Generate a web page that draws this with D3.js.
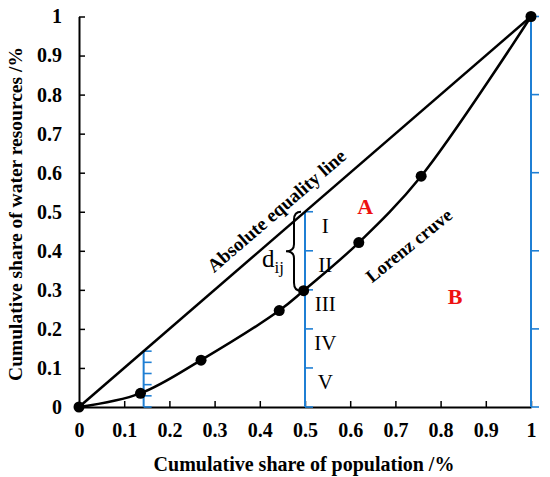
<!DOCTYPE html>
<html>
<head>
<meta charset="utf-8">
<script src="https://cdn.jsdelivr.net/npm/d3@7"></script>
<style>
  body { margin: 0; background: #fff; }
  svg { display: block; font-family: "Liberation Serif", "Times New Roman", serif; }
</style>
</head>
<body>
<svg id="chart" width="550" height="477"></svg>
<script>
// ---- data ----
const tickValues = [0, 0.1, 0.2, 0.3, 0.4, 0.5, 0.6, 0.7, 0.8, 0.9, 1];
const tickLabels = ["0", "0.1", "0.2", "0.3", "0.4", "0.5", "0.6", "0.7", "0.8", "0.9", "1"];
const equalityX = [0, 1];
const equalityY = [0, 1];
const lorenzX = [0, 0.136, 0.27, 0.443, 0.497, 0.619, 0.757, 1];
const lorenzY = [0, 0.035, 0.12, 0.247, 0.298, 0.421, 0.591, 1];
const blueX = [0.143, 0.5, 1];
const blueTop = [0.143, 0.5, 1];
const blueDivisions = [5, 5, 5];
const romanLabels = ["I", "II", "III", "IV", "V"];
const xTitle = "Cumulative share of population /%";
const yTitle = "Cumulative share of water resources /%";

// ---- layout ----
const svg = d3.select("#chart");
const x = d3.scaleLinear().domain([0, 1]).range([79, 531]);
const y = d3.scaleLinear().domain([0, 1]).range([407, 16.5]);
const blue = "#1f7fd4";

// axes
const xAxis = d3.axisBottom(x).tickValues(tickValues)
  .tickFormat((d, i) => tickLabels[i]).tickSizeInner(-6).tickSizeOuter(0).tickPadding(16);
const yAxis = d3.axisLeft(y).tickValues(tickValues)
  .tickFormat((d, i) => tickLabels[i]).tickSizeInner(-6).tickSizeOuter(0).tickPadding(17);

const gx = svg.append("g").attr("transform", `translate(0,${y(0)})`).call(xAxis);
const gy = svg.append("g").attr("transform", `translate(${x(0)},0)`).call(yAxis);
[gx, gy].forEach(g => {
  g.selectAll("path.domain").attr("stroke", "#000").attr("stroke-width", 2);
  g.selectAll(".tick line").attr("stroke", "#000").attr("stroke-width", 1.5);
  g.selectAll("text").attr("fill", "#000").style("font-size", "20px").style("font-weight", "bold")
    .style("font-family", '"Liberation Serif", serif');
});
gy.selectAll(".tick").filter(d => d === 0).select("line").remove();
gx.selectAll(".tick").filter(d => d === 0).select("line").remove();

// titles
svg.append("text").attr("x", 304).attr("y", 471).attr("text-anchor", "middle")
  .style("font-size", "20px").style("font-weight", "bold").text(xTitle);
svg.append("text").attr("transform", `translate(22,214) rotate(-90)`).attr("text-anchor", "middle")
  .style("font-size", "19.5px").style("font-weight", "bold").text(yTitle);

// blue division lines
blueX.forEach((bx, k) => {
  const g = svg.append("g");
  g.append("line").attr("x1", x(bx)).attr("x2", x(bx)).attr("y1", y(0)).attr("y2", y(blueTop[k]))
    .attr("stroke", blue).attr("stroke-width", 2);
  const ticks = d3.range(blueDivisions[k] + 1).map(i => i * blueTop[k] / blueDivisions[k]);
  g.selectAll("line.bt").data(ticks).join("line").attr("class", "bt")
    .attr("x1", x(bx)).attr("x2", x(bx) + 8)
    .attr("y1", d => y(d)).attr("y2", d => y(d))
    .attr("stroke", blue).attr("stroke-width", 1.6);
});

// equality line
const eqData = equalityX.map((v, i) => [v, equalityY[i]]);
svg.append("path").datum(eqData)
  .attr("d", d3.line().x(d => x(d[0])).y(d => y(d[1])))
  .attr("fill", "none").attr("stroke", "#000").attr("stroke-width", 2.5);

// Lorenz curve
const lzData = lorenzX.map((v, i) => [v, lorenzY[i]]);
svg.append("path").datum(lzData)
  .attr("d", d3.line().x(d => x(d[0])).y(d => y(d[1])).curve(d3.curveCatmullRom.alpha(0.5)))
  .attr("fill", "none").attr("stroke", "#000").attr("stroke-width", 2.5);
svg.selectAll("circle.pt").data(lzData).join("circle").attr("class", "pt")
  .attr("cx", d => x(d[0])).attr("cy", d => y(d[1])).attr("r", 5.5).attr("fill", "#000");

// brace between equality line and Lorenz curve at x=0.5
{
  const xe = x(0.5) - 4, y1 = y(0.5), y2 = y(0.298), ym = (y1 + y2) / 2;
  const p = d3.path();
  p.moveTo(xe, y1);
  p.quadraticCurveTo(xe - 7, y1, xe - 7, y1 + 8);
  p.lineTo(xe - 7, ym - 7);
  p.quadraticCurveTo(xe - 7, ym, xe - 15, ym);
  p.quadraticCurveTo(xe - 7, ym, xe - 7, ym + 7);
  p.lineTo(xe - 7, y2 - 8);
  p.quadraticCurveTo(xe - 7, y2, xe, y2);
  svg.append("path").attr("d", p.toString()).attr("fill", "none")
    .attr("stroke", "#000").attr("stroke-width", 2);
}

// d_ij
const dt = svg.append("text").attr("x", x(0.405)).attr("y", y(0.358)).style("font-size", "25px");
dt.append("tspan").text("d");
dt.append("tspan").attr("dy", 6).style("font-size", "17px").text("ij");

// roman numerals
svg.selectAll("text.rn").data(romanLabels).join("text").attr("class", "rn")
  .attr("x", x(0.545)).attr("y", (d, i) => y(0.5 - (i + 0.5) * 0.1) - 5)
  .attr("text-anchor", "middle").attr("dominant-baseline", "central")
  .style("font-size", "21px").text(d => d);

// A / B
svg.append("text").attr("x", x(0.633)).attr("y", y(0.513)).attr("text-anchor", "middle")
  .attr("dominant-baseline", "central").attr("fill", "#ee1111")
  .style("font-size", "22px").style("font-weight", "bold").text("A");
svg.append("text").attr("x", x(0.832)).attr("y", y(0.282)).attr("text-anchor", "middle")
  .attr("dominant-baseline", "central").attr("fill", "#ee1111")
  .style("font-size", "22px").style("font-weight", "bold").text("B");

// rotated labels
const ang = Math.atan2(y(0) - y(1), x(1) - x(0)) * 180 / Math.PI;
svg.append("text")
  .attr("transform", `translate(${x(0.465)},${y(0.465)}) rotate(${-ang})`)
  .attr("text-anchor", "middle").attr("dy", -13)
  .style("font-size", "19px").style("font-weight", "bold").text("Absolute equality line");
svg.append("text")
  .attr("transform", `translate(${x(0.73)},${y(0.413)}) rotate(-39)`)
  .attr("text-anchor", "middle").attr("dominant-baseline", "central")
  .style("font-size", "18.5px").style("font-weight", "bold").text("Lorenz cruve");
</script>
</body>
</html>
